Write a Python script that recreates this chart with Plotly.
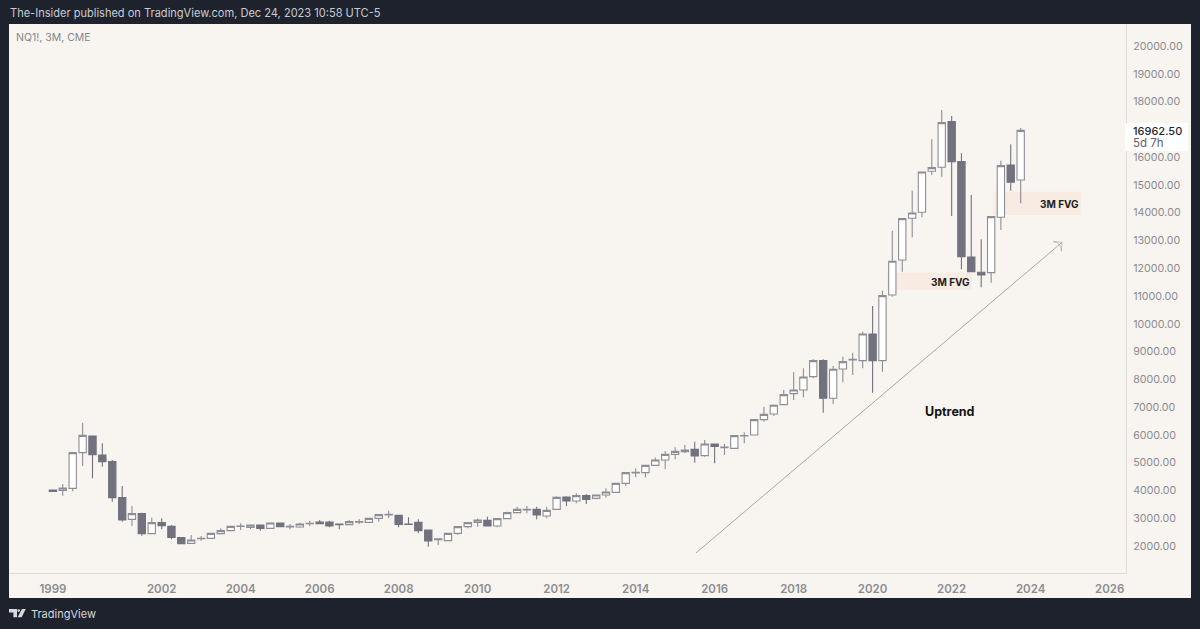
import pandas as pd
import plotly.graph_objects as go

# quarterly NQ1! candles, first one is 1999 Q2
opens = [4010, 4004, 4076, 5360, 5960, 5276, 5036, 3740, 2960, 3164, 2444, 2840, 2708, 2300, 2096, 2260, 2276, 2444, 2552,
         2700, 2672, 2756, 2636, 2828, 2690, 2684, 2800, 2864, 2864, 2792, 2768, 2860, 2852, 2996, 3120, 3104, 2792, 2852,
         2576, 2230, 2192, 2456, 2696, 2852, 2924, 2720, 2984, 3200, 3300, 3320, 3080, 3320, 3764, 3620, 3812, 3716, 3836,
         3932, 4256, 4630, 4640, 4904, 5096, 5300, 5396, 5480, 5252, 5672, 5540, 5516, 5960, 5996, 6548, 6752, 7088, 7484,
         7616, 8096, 8672, 7316, 8372, 8700, 8672, 9632, 8672, 11036, 12296, 13796, 14012, 15488, 15632, 17276, 15836,
         12404, 11852, 11840, 13832, 15716, 15176]
highs = [4020, 4232, 5380, 6440, 5960, 5696, 5096, 4160, 3440, 3200, 3020, 2996, 2756, 2300, 2396, 2360, 2470, 2636, 2720,
         2816, 2756, 2770, 2850, 2828, 2792, 2840, 2912, 2936, 2912, 2792, 2936, 2972, 3000, 3140, 3272, 3104, 3032, 2960,
         2590, 2260, 2470, 2710, 2860, 2990, 3056, 3010, 3230, 3416, 3440, 3416, 3416, 3790, 3790, 3896, 3872, 3850, 4076,
         4280, 4660, 4796, 4920, 5190, 5420, 5552, 5636, 5756, 5816, 5680, 5672, 6000, 6092, 6560, 7016, 7090, 7616, 8264,
         8396, 8720, 8720, 8480, 8816, 8960, 9716, 10640, 11192, 13352, 13800, 14792, 15480, 16640, 17696, 17480, 16136,
         14636, 13040, 13870, 15872, 16460, 17048]
lows = [3950, 3812, 3968, 4880, 4436, 4856, 3596, 2876, 2720, 2372, 2432, 2600, 2240, 2084, 2084, 2192, 2264, 2432, 2540,
        2576, 2612, 2552, 2630, 2690, 2600, 2660, 2720, 2780, 2672, 2600, 2744, 2780, 2840, 2876, 3008, 2672, 2756, 2456,
        1976, 2036, 2180, 2396, 2636, 2696, 2700, 2672, 2970, 3190, 3176, 2960, 2996, 3300, 3440, 3536, 3512, 3700, 3740,
        3920, 4160, 4472, 4472, 4890, 4760, 5120, 5336, 4999, 5216, 4976, 5276, 5500, 5696, 5980, 6476, 6680, 7080, 7256,
        7352, 8036, 6800, 7112, 7892, 8156, 8396, 7520, 8276, 10976, 11876, 13112, 13832, 15356, 15296, 13880, 11960,
        11870, 11312, 11480, 13376, 14792, 14336]
closes = [3960, 4088, 5360, 5984, 5288, 5036, 3740, 2936, 3164, 2444, 2840, 2732, 2312, 2084, 2216, 2280, 2456, 2552, 2708,
          2720, 2756, 2636, 2828, 2696, 2710, 2792, 2815, 2804, 2720, 2768, 2876, 2880, 2996, 3128, 3140, 2780, 2780, 2552,
          2180, 2255, 2456, 2696, 2840, 2936, 2720, 2984, 3200, 3320, 3320, 3116, 3284, 3752, 3620, 3812, 3680, 3836, 3944,
          4256, 4640, 4650, 4904, 5096, 5300, 5408, 5456, 5240, 5672, 5588, 5560, 5972, 5975, 6548, 6740, 7064, 7448, 7616,
          8084, 8672, 7316, 8360, 8636, 8720, 9632, 8672, 11012, 12248, 13784, 13988, 15464, 15620, 17240, 15836, 12416,
          11876, 11756, 13856, 15692, 15092, 16962.5]
dates = pd.date_range('1999-04-01', periods=len(opens), freq='QS')

year_labels = ['1999', '2002', '2004', '2006', '2008', '2010', '2012', '2014', '2016', '2018', '2020', '2022', '2024', '2026']
year_ticks = ['1999-04-01'] + [y + '-01-01' for y in year_labels[1:]]
price_ticks = [2000, 3000, 4000, 5000, 6000, 7000, 8000, 9000, 10000, 11000, 12000, 13000, 14000, 15000, 16000, 18000, 19000, 20000]

# drawings on the chart
fvg_zones = [('2020-05-15', '2022-07-06', 11216, 11840), ('2023-01-18', '2025-04-10', 13916, 14755)]
trend_x = ['2015-07-12', '2024-10-18']
trend_y = [1748, 12933]

W, H = 1200, 629
L, R, T, B = 9, 1126, 24, 573
PAGE = '#1e222d'
PANEL = '#f8f5f1'
EDGE = '#dfdcd8'
GREY = '#8b8b90'


def px(x):
    return (x - L) / (R - L)


def py(y):
    return (B - y) / (B - T)


fig = go.Figure()
fig.add_trace(go.Candlestick(
    x=dates, open=opens, high=highs, low=lows, close=closes,
    increasing=dict(line=dict(color='#8d8d94', width=1.1), fillcolor='#ffffff'),
    decreasing=dict(line=dict(color='#72727e', width=1.1), fillcolor='#72727e'),
    whiskerwidth=0, showlegend=False, hoverinfo='skip'))
fig.add_trace(go.Scatter(
    x=trend_x, y=trend_y, mode='lines+markers', showlegend=False, hoverinfo='skip',
    line=dict(color='#a9a7a5', width=1),
    marker=dict(symbol=['circle', 'arrow-wide-open'], size=[0, 9], angleref='previous',
                color='#a9a7a5', line=dict(color='#a9a7a5', width=1))))

shapes = [
    # light panel behind the plot and both axes
    dict(type='rect', xref='paper', yref='paper', x0=px(9), x1=px(1191), y0=py(598), y1=py(24),
         fillcolor=PANEL, line_width=0, layer='below'),
    # white price label
    dict(type='rect', xref='paper', yref='paper', x0=px(1125), x1=px(1188), y0=py(151), y1=py(123),
         fillcolor='#ffffff', line_width=0, layer='above'),
    # tradingview logo
    dict(type='path', xref='paper', yref='paper', fillcolor='#d6d8dc', line_width=0, layer='above',
         path=f'M{px(9)},{py(609)} L{px(17)},{py(609)} L{px(17)},{py(617.3)} L{px(13.4)},{py(617.3)} '
              f'L{px(13.4)},{py(612.4)} L{px(9)},{py(612.4)} Z'),
    dict(type='circle', xref='paper', yref='paper', fillcolor='#d6d8dc', line_width=0, layer='above',
         x0=px(17.4), x1=px(20), y0=py(612), y1=py(609.2)),
    dict(type='path', xref='paper', yref='paper', fillcolor='#d6d8dc', line_width=0, layer='above',
         path=f'M{px(22)},{py(609)} L{px(25.8)},{py(609)} L{px(21.6)},{py(617.3)} L{px(17.6)},{py(617.3)} Z'),
]
for x0, x1, y0, y1 in fvg_zones:
    shapes.append(dict(type='rect', x0=x0, x1=x1, y0=y0, y1=y1, fillcolor='#f8ebe2', line_width=0, layer='below'))


def note(text, x, y, size, color, weight=400, anchor='left'):
    return dict(text=text, x=x, y=y, xref='paper', yref='paper', xanchor=anchor, yanchor='middle',
                showarrow=False, font=dict(family='Inter', size=size, color=color, weight=weight))


annotations = [
    note('The-Insider published on TradingView.com, Dec 24, 2023 10:58 UTC-5', px(7.5), py(13), 11.05, '#c9cbd1'),
    note('NQ1!, 3M, CME', px(14), py(37.5), 10.5, '#85858a'),
    note('16962.50', px(1131), py(130.5), 11, '#26262a', 500),
    note('5d 7h', px(1131), py(143), 11.5, '#5f5f64'),
    note('TradingView', px(28.5), py(613.5), 11, '#d6d8dc'),
    dict(text='<b>Uptrend</b>', x='2021-12-16', y=6830, showarrow=False, font=dict(family='Inter', size=12.5, color='#131313')),
    dict(text='<b>3M FVG</b>', x='2021-12-18', y=11515, showarrow=False, font=dict(family='Inter', size=10, color='#1c1c1c')),
    dict(text='<b>3M FVG</b>', x='2024-09-25', y=14323, showarrow=False, font=dict(family='Inter', size=10, color='#1c1c1c')),
]

fig.update_layout(
    width=W, height=H, margin=dict(l=L, r=W - R, t=T, b=H - B),
    paper_bgcolor=PAGE, plot_bgcolor=PANEL,
    boxgap=0.25, boxgroupgap=0,
    shapes=shapes, annotations=annotations, showlegend=False,
    xaxis=dict(range=['1998-02-19', '2026-06-01'], rangeslider_visible=False, showgrid=False, zeroline=False,
               tickvals=year_ticks, ticktext=year_labels, ticks='', showline=True, linecolor=EDGE, linewidth=1,
               tickfont=dict(family='Inter', size=11.5, color=GREY, weight=600), ticklabelstandoff=5),
    yaxis=dict(range=[1028, 20791], side='right', showgrid=False, zeroline=False, tickvals=price_ticks,
               tickformat='.2f', ticks='', showline=True, linecolor=EDGE, linewidth=1,
               tickfont=dict(family='Inter', size=10.7, color=GREY), ticklabelstandoff=4),
)

fig.write_html('out.html', config=dict(displayModeBar=False),
               post_script="document.body.style.margin='0';document.body.style.background='#1e222d';")
